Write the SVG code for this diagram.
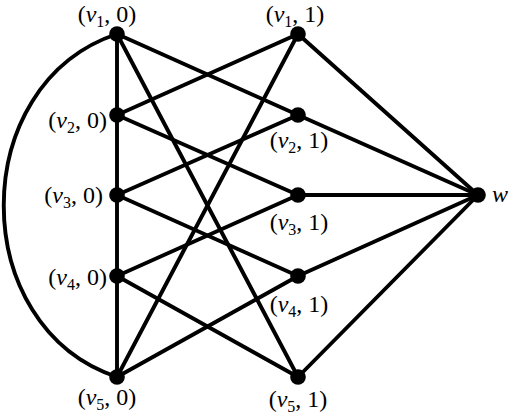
<svg xmlns="http://www.w3.org/2000/svg" width="510" height="415" viewBox="0 0 510 415">
<style>
.e{stroke:#000;stroke-width:3.9;fill:none;stroke-linecap:round}
.n{fill:#000}
text{font-family:"Liberation Serif","DejaVu Serif",serif;font-size:24px;fill:#000}
.i{font-style:italic}
.s{font-size:16px}
</style>
<rect width="510" height="415" fill="#fff"/>
<g id="edges">
<path class="e" d="M117,34 L117,377"/>
<path class="e" d="M117,34 C-34,84 -34,327 117,377"/>
<path class="e" d="M298,34 L117,115 M298,34 L117,377 M298,34 L478,195"/>
<path class="e" d="M298,115 L117,34 M298,115 L117,195 M298,115 L478,195"/>
<path class="e" d="M298,195 L117,115 M298,195 L117,276 M298,195 L478,195"/>
<path class="e" d="M298,276 L117,195 M298,276 L117,377 M298,276 L478,195"/>
<path class="e" d="M298,377 L117,276 M298,377 L117,34 M298,377 L478,195"/>
</g>
<g id="v1_0"><circle class="n" cx="117" cy="34" r="7.8"/><text x="107" y="22" text-anchor="middle">(<tspan class="i">v</tspan><tspan class="s" dy="5">1</tspan><tspan dy="-5">, 0)</tspan></text></g>
<g id="v2_0"><circle class="n" cx="117" cy="115" r="7.8"/><text x="107" y="128" text-anchor="end">(<tspan class="i">v</tspan><tspan class="s" dy="5">2</tspan><tspan dy="-5">, 0)</tspan></text></g>
<g id="v3_0"><circle class="n" cx="117" cy="195" r="7.8"/><text x="103" y="203" text-anchor="end">(<tspan class="i">v</tspan><tspan class="s" dy="5">3</tspan><tspan dy="-5">, 0)</tspan></text></g>
<g id="v4_0"><circle class="n" cx="117" cy="276" r="7.8"/><text x="107" y="285" text-anchor="end">(<tspan class="i">v</tspan><tspan class="s" dy="5">4</tspan><tspan dy="-5">, 0)</tspan></text></g>
<g id="v5_0"><circle class="n" cx="117" cy="377" r="7.8"/><text x="107" y="405" text-anchor="middle">(<tspan class="i">v</tspan><tspan class="s" dy="5">5</tspan><tspan dy="-5">, 0)</tspan></text></g>
<g id="v1_1"><circle class="n" cx="298" cy="34" r="7.8"/><text x="295" y="22" text-anchor="middle">(<tspan class="i">v</tspan><tspan class="s" dy="5">1</tspan><tspan dy="-5">, 1)</tspan></text></g>
<g id="v2_1"><circle class="n" cx="298" cy="115" r="7.8"/><text x="299" y="148" text-anchor="middle">(<tspan class="i">v</tspan><tspan class="s" dy="5">2</tspan><tspan dy="-5">, 1)</tspan></text></g>
<g id="v3_1"><circle class="n" cx="298" cy="195" r="7.8"/><text x="299" y="230" text-anchor="middle">(<tspan class="i">v</tspan><tspan class="s" dy="5">3</tspan><tspan dy="-5">, 1)</tspan></text></g>
<g id="v4_1"><circle class="n" cx="298" cy="276" r="7.8"/><text x="299" y="312" text-anchor="middle">(<tspan class="i">v</tspan><tspan class="s" dy="5">4</tspan><tspan dy="-5">, 1)</tspan></text></g>
<g id="v5_1"><circle class="n" cx="298" cy="377" r="7.8"/><text x="298" y="407" text-anchor="middle">(<tspan class="i">v</tspan><tspan class="s" dy="5">5</tspan><tspan dy="-5">, 1)</tspan></text></g>
<g id="w"><circle class="n" cx="478" cy="195" r="7.8"/><text x="492" y="202" class="i">w</text></g>
</svg>
